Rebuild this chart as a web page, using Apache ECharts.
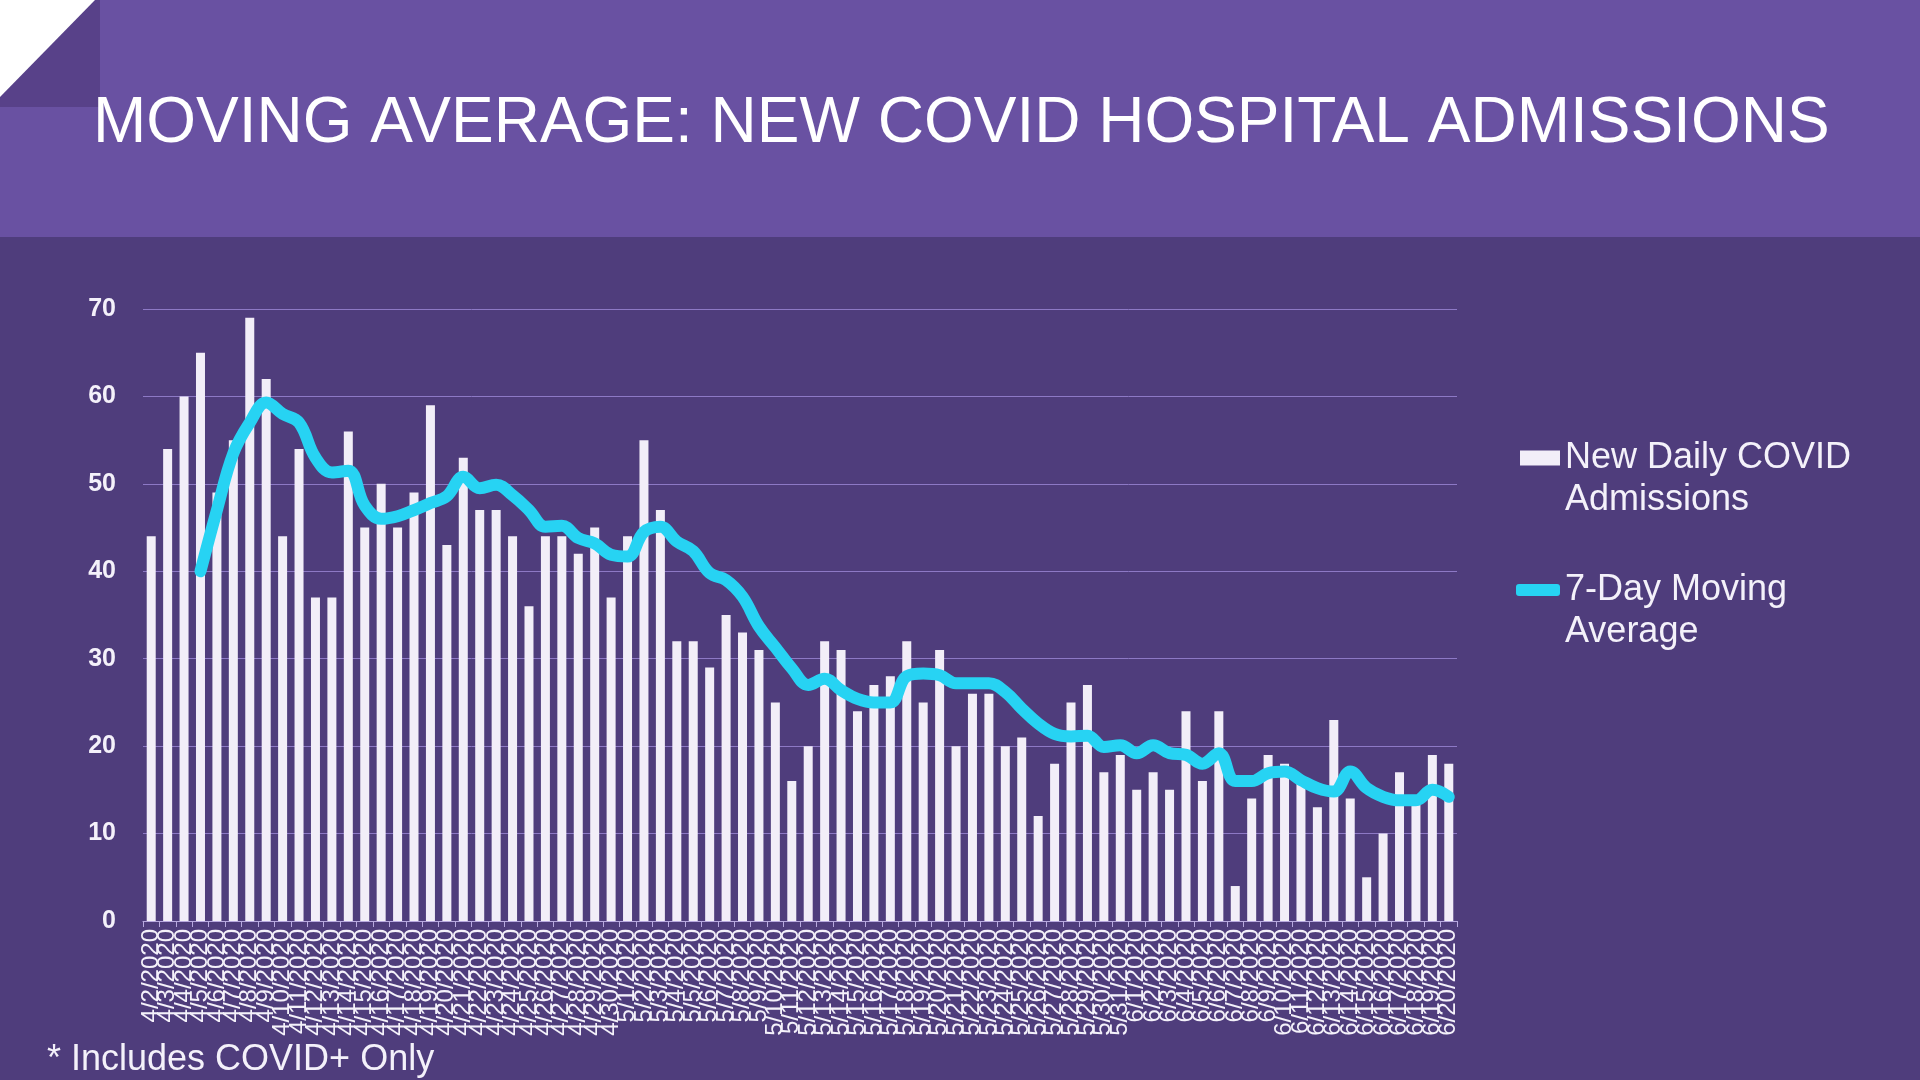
<!DOCTYPE html>
<html>
<head>
<meta charset="utf-8">
<title>Moving Average: New COVID Hospital Admissions</title>
<script src="https://cdn.jsdelivr.net/npm/echarts/dist/echarts.min.js"></script>
<style>
  html, body { margin: 0; padding: 0; background: #4f3d7c; }
  #chart { width: 1920px; height: 1080px; }
</style>
</head>
<body>
<div id="chart"></div>
<script>
// dates on the x axis
const dates = [
  "4/2/2020", "4/3/2020", "4/4/2020", "4/5/2020", "4/6/2020", "4/7/2020", "4/8/2020", "4/9/2020",
  "4/10/2020", "4/11/2020", "4/12/2020", "4/13/2020", "4/14/2020", "4/15/2020", "4/16/2020",
  "4/17/2020", "4/18/2020", "4/19/2020", "4/20/2020", "4/21/2020", "4/22/2020", "4/23/2020",
  "4/24/2020", "4/25/2020", "4/26/2020", "4/27/2020", "4/28/2020", "4/29/2020", "4/30/2020",
  "5/1/2020", "5/2/2020", "5/3/2020", "5/4/2020", "5/5/2020", "5/6/2020", "5/7/2020", "5/8/2020",
  "5/9/2020", "5/10/2020", "5/11/2020", "5/12/2020", "5/13/2020", "5/14/2020", "5/15/2020",
  "5/16/2020", "5/17/2020", "5/18/2020", "5/19/2020", "5/20/2020", "5/21/2020", "5/22/2020",
  "5/23/2020", "5/24/2020", "5/25/2020", "5/26/2020", "5/27/2020", "5/28/2020", "5/29/2020",
  "5/30/2020", "5/31/2020", "6/1/2020", "6/2/2020", "6/3/2020", "6/4/2020", "6/5/2020",
  "6/6/2020", "6/7/2020", "6/8/2020", "6/9/2020", "6/10/2020", "6/11/2020", "6/12/2020",
  "6/13/2020", "6/14/2020", "6/15/2020", "6/16/2020", "6/17/2020", "6/18/2020", "6/19/2020",
  "6/20/2020"
];

// new daily admissions (bars)
const dailyAdmissions = [
  44, 54, 60, 65, 49, 55, 69, 62, 44, 54,
  37, 37, 56, 45, 50, 45, 49, 59, 43, 53,
  47, 47, 44, 36, 44, 44, 42, 45, 37, 44,
  55, 47, 32, 32, 29, 35, 33, 31, 25, 16,
  20, 32, 31, 24, 27, 28, 32, 25, 31, 20,
  26, 26, 20, 21, 12, 18, 25, 27, 17, 19,
  15, 17, 15, 24, 16, 24, 4, 14, 19, 18,
  16, 13, 23, 14, 5, 10, 17, 14, 19, 18
];

// 7-day moving average (line); starts on 4/5
const movingAverage = [
  "-", "-", "-", 40, 47, 53.5, 57, 59.3, 58, 57,
  53, 51.3, 51.5, 47.5, 46, 46.3, 47, 47.8, 48.6, 50.8,
  49.5, 49.9, 48.7, 47, 45.1, 45.2, 43.8, 43.2, 41.9, 41.7,
  44.5, 45.1, 43.4, 42.3, 39.8, 39, 37.1, 33.7, 31.3, 28.9,
  27, 27.7, 26.4, 25.4, 25, 25, 28, 28.3, 28.1, 27.2,
  27.2, 27.2, 26.2, 24.3, 22.6, 21.4, 21.1, 21.2, 19.9, 20.1,
  19.2, 20.1, 19.2, 19, 18, 19.2, 16, 16, 16.9, 17.1,
  16.1, 15.2, 14.8, 17.1, 15.2, 14.2, 13.8, 13.8, 15, 14.2
];

const yTicks = { min: 0, max: 70, interval: 10 };

const FONT = "'Liberation Sans', Arial, sans-serif";
const TEXT = "#f4f1fa";
const CYAN = "#27d3f3";

const chart = echarts.init(document.getElementById("chart"), null, { renderer: "canvas" });

// legend text: a leading empty line puts the first text line level with the icon
const legendText = {
  color: TEXT,
  fontFamily: FONT,
  fontSize: 36,
  lineHeight: 42
};

const option = {
  backgroundColor: "#4f3d7c",
  animation: false,
  title: [
    {
      text: "MOVING AVERAGE: NEW COVID HOSPITAL ADMISSIONS",
      left: 93,
      top: 92,
      padding: 0,
      textStyle: { color: "#ffffff", fontFamily: FONT, fontSize: 64, fontWeight: "normal" }
    },
    {
      text: "* Includes COVID+ Only",
      left: 47,
      top: 1042,
      padding: 0,
      textStyle: { color: TEXT, fontFamily: FONT, fontSize: 36, fontWeight: "normal" }
    }
  ],
  graphic: [
    // header band
    { type: "rect", z: -10, shape: { x: 0, y: 0, width: 1920, height: 237 }, style: { fill: "#6951a2" } },
    // folded corner
    { type: "rect", z: -9, shape: { x: 0, y: 0, width: 100, height: 107 }, style: { fill: "#584189" } },
    { type: "polygon", z: -8, shape: { points: [[0, 0], [95, 0], [0, 97]] }, style: { fill: "#ffffff" } }
  ],
  legend: [
    {
      data: [{ name: "New Daily COVID Admissions", icon: "rect" }],
      orient: "vertical",
      left: 1520,
      top: 395,
      padding: 0,
      itemWidth: 40,
      itemHeight: 15,
      formatter: function () { return "\nNew Daily COVID\nAdmissions"; },
      textStyle: legendText
    },
    {
      data: [{ name: "7-Day Moving Average", icon: "roundRect" }],
      orient: "vertical",
      left: 1516,
      top: 527,
      padding: 0,
      itemWidth: 44,
      itemHeight: 12,
      formatter: function () { return "\n7-Day Moving\nAverage"; },
      textStyle: legendText
    }
  ],
  grid: {
    left: 143,
    right: 463,
    top: 309,
    bottom: 159,
    containLabel: false,
    outerBoundsMode: "none"
  },
  xAxis: {
    type: "category",
    data: dates,
    boundaryGap: true,
    axisLine: { show: true, lineStyle: { color: "#b8a9df", width: 1 } },
    axisTick: { show: true, alignWithLabel: false, length: 6, lineStyle: { color: "#b8a9df" } },
    axisLabel: {
      interval: 0,
      rotate: 90,
      margin: 8,
      color: TEXT,
      fontFamily: FONT,
      fontSize: 24
    },
    splitLine: { show: false }
  },
  yAxis: {
    type: "value",
    min: yTicks.min,
    max: yTicks.max,
    interval: yTicks.interval,
    axisLine: { show: false },
    axisTick: { show: false },
    axisLabel: {
      margin: 27,
      color: TEXT,
      fontFamily: FONT,
      fontSize: 25,
      fontWeight: "bold"
    },
    splitLine: { lineStyle: { color: "#8d79c5", width: 1 } }
  },
  series: [
    {
      name: "New Daily COVID Admissions",
      type: "bar",
      data: dailyAdmissions,
      barWidth: 9,
      itemStyle: { color: "#f2eef8" }
    },
    {
      name: "7-Day Moving Average",
      type: "line",
      data: movingAverage,
      smooth: 0.4,
      showSymbol: false,
      symbol: "none",
      itemStyle: { color: CYAN },
      lineStyle: { color: CYAN, width: 12, cap: "round", join: "round" }
    }
  ]
};

chart.setOption(option);
</script>
</body>
</html>
